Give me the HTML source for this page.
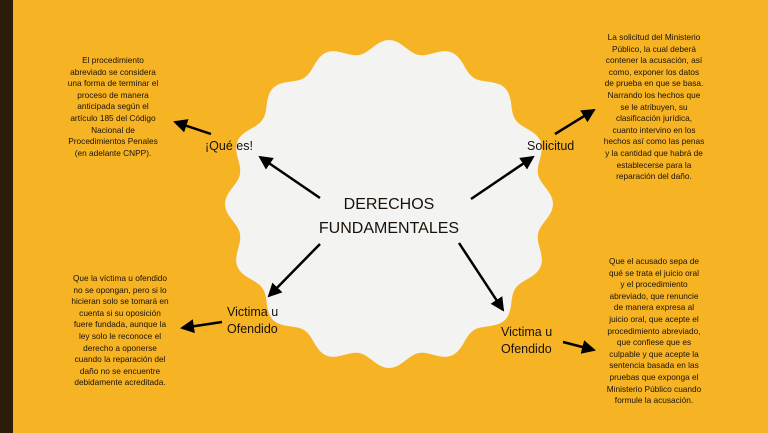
<!DOCTYPE html>
<html><head><meta charset="utf-8">
<style>
html,body{margin:0;padding:0;}
body{width:768px;height:433px;background:#F6B324;position:relative;overflow:hidden;font-family:"Liberation Sans",sans-serif;color:#1a1208;}
.strip{position:absolute;left:0;top:0;width:13px;height:433px;background:#2b1c0c;}
.blk{position:absolute;font-size:8.3px;line-height:11.6px;text-align:center;white-space:nowrap;transform:translateX(-50%);}
svg{position:absolute;left:0;top:0;}
</style></head><body>
<div class="strip"></div>
<svg width="768" height="433" viewBox="0 0 768 433">
<defs><marker id="ah" markerWidth="10" markerHeight="10" refX="7" refY="4" orient="auto" markerUnits="userSpaceOnUse"><path d="M0,0 L9,4 L0,8 Z" fill="#000"/></marker>
<marker id="ah2" markerWidth="16" markerHeight="16" refX="12" refY="7" orient="auto" markerUnits="userSpaceOnUse"><path d="M0,0 L14,7 L0,14 Z" fill="#000"/></marker></defs>
<path id="blob" fill="#F3F3F1" d=""/>
<g stroke="#000" stroke-width="2.5" fill="none">
<line x1="320" y1="198" x2="260" y2="157" marker-end="url(#ah2)"/>
<line x1="471" y1="199" x2="533" y2="157" marker-end="url(#ah2)"/>
<line x1="320" y1="244" x2="269" y2="296" marker-end="url(#ah2)"/>
<line x1="459" y1="243" x2="503" y2="310" marker-end="url(#ah2)"/>
<line x1="211" y1="134" x2="175" y2="122" marker-end="url(#ah2)"/>
<line x1="555" y1="134" x2="594" y2="110" marker-end="url(#ah2)"/>
<line x1="222" y1="322" x2="182" y2="328" marker-end="url(#ah2)"/>
<line x1="563" y1="342" x2="594" y2="350" marker-end="url(#ah2)"/>
</g>
<g font-family="Liberation Sans, sans-serif" fill="#1a1208">
<text x="389" y="209" font-size="16" text-anchor="middle">DERECHOS</text>
<text x="389" y="233" font-size="16" text-anchor="middle">FUNDAMENTALES</text>
<text x="205" y="150" font-size="12.5">¡Qué es!</text>
<text x="527" y="150" font-size="12.5">Solicitud</text>
<text x="227" y="316" font-size="12.5">Victima u</text>
<text x="227" y="333" font-size="12.5">Ofendido</text>
<text x="501" y="336" font-size="12.5">Victima u</text>
<text x="501" y="353" font-size="12.5">Ofendido</text>
</g>
</svg>
<div class="blk" style="left:113px;top:55px;">El procedimiento<br>abreviado se considera<br>una forma de terminar el<br>proceso de manera<br>anticipada según el<br>artículo 185 del Código<br>Nacional de<br>Procedimientos Penales<br>(en adelante CNPP).</div>
<div class="blk" style="left:654px;top:32px;">La solicitud del Ministerio<br>Público, la cual deberá<br>contener la acusación, así<br>como, exponer los datos<br>de prueba en que se basa.<br>Narrando los hechos que<br>se le atribuyen, su<br>clasificación jurídica,<br>cuanto intervino en los<br>hechos así como las penas<br>y la cantidad que habrá de<br>establecerse para la<br>reparación del daño.</div>
<div class="blk" style="left:120px;top:273px;">Que la víctima u ofendido<br>no se opongan, pero si lo<br>hicieran solo se tomará en<br>cuenta si su oposición<br>fuere fundada, aunque la<br>ley solo le reconoce el<br>derecho a oponerse<br>cuando la reparación del<br>daño no se encuentre<br>debidamente acreditada.</div>
<div class="blk" style="left:654px;top:256px;">Que el acusado sepa de<br>qué se trata el juicio oral<br>y el procedimiento<br>abreviado, que renuncie<br>de manera expresa al<br>juicio oral, que acepte el<br>procedimiento abreviado,<br>que confiese que es<br>culpable y que acepte la<br>sentencia basada en las<br>pruebas que exponga el<br>Ministerio Público cuando<br>formule la acusación.</div>
<script>
(function(){var cx=389,cy=204,R=158,A=6,n=16,d="";
for(var i=0;i<=720;i++){var t=i/720*2*Math.PI;var r=R+A*Math.cos(n*t);
var x=cx+r*Math.sin(t),y=cy-r*Math.cos(t);d+=(i?"L":"M")+x.toFixed(1)+","+y.toFixed(1);}
document.getElementById("blob").setAttribute("d",d+"Z");})();
</script>
</body></html>
